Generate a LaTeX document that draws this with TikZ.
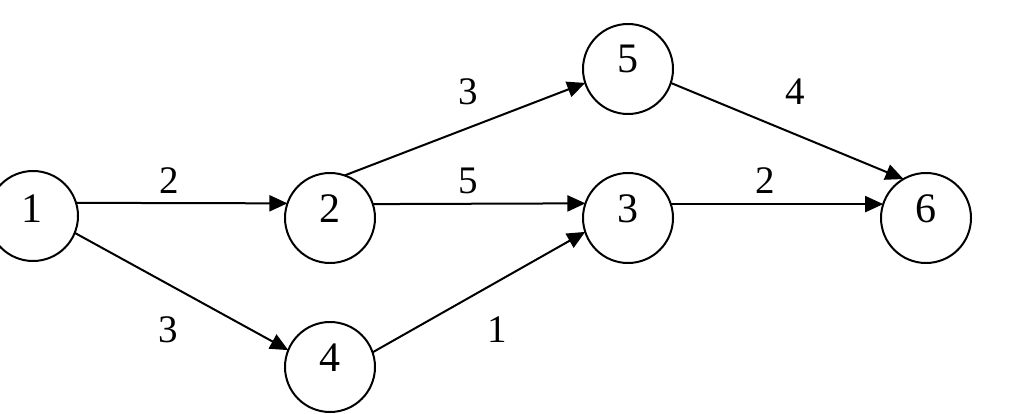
\documentclass[tikz,border=0pt]{standalone}
\usepackage{fontspec}
\setmainfont{Liberation Serif}
\usetikzlibrary{arrows.meta}
\begin{document}
\begin{tikzpicture}[x=1pt,y=-1pt,
  vert/.style={circle,draw,line width=2pt,minimum size=90pt,inner sep=0pt,outer sep=0pt},
  vtext/.style={inner sep=0pt,font=\fontsize{42}{50}\selectfont},
  wlab/.style={inner sep=0pt,font=\fontsize{39}{46}\selectfont},
  edge/.style={line width=2pt,-{Triangle[length=18pt,width=16pt]}}]
\useasboundingbox (0,0) rectangle (1024,414);
\node[vert] (n1) at (33,216) {};
\node[vert] (n2) at (330,218) {};
\node[vert] (n5) at (628,69) {};
\node[vert] (n3) at (628,218) {};
\node[vert] (n6) at (926,218) {};
\node[vert] (n4) at (330,367) {};
\node[vtext] (t1) at (32,209) {1};
\node[vtext] (t2) at (330,209) {2};
\node[vtext] (t5) at (628,59) {5};
\node[vtext] (t3) at (628,209) {3};
\node[vtext] (t6) at (926,209) {6};
\node[vtext] (t4) at (330,358) {4};
\draw[edge] (n1.17.6) -- (n2.161.6);
\draw[edge] (n2.18.4) -- (n3.161.6);
\draw[edge] (n3.18.4) -- (n6.162);
\draw[edge] (n2.71.6) -- (n5.198.4);
\draw[edge] (n5.-18.4) -- (n6.120.3);
\draw[edge] (n1.-22.5) -- (n4.158);
\draw[edge] (n4.19) -- (n3.198.4);
\node[wlab] (l12) at (169,181) {2};
\node[wlab] (l25) at (468,92) {3};
\node[wlab] (l23) at (468,181) {5};
\node[wlab] (l56) at (795,92) {4};
\node[wlab] (l36) at (765,181) {2};
\node[wlab] (l14) at (168,330) {3};
\node[wlab] (l43) at (497,330) {1};
\end{tikzpicture}
\end{document}
